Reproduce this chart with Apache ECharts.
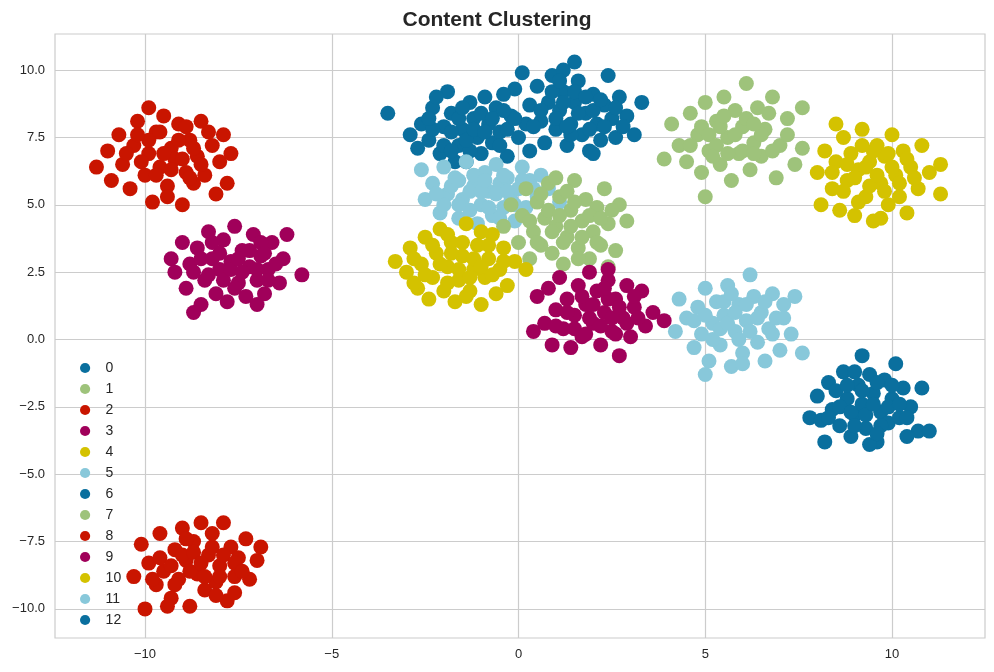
<!DOCTYPE html>
<html><head><meta charset="utf-8">
<script src="https://cdn.jsdelivr.net/npm/echarts@6/dist/echarts.min.js"></script>
<style>html,body{margin:0;padding:0;background:#fff}#c{width:994px;height:672px}</style>
</head><body><div id="c"></div>
<script>
const clusterNames = ['0','1','2','3','4','5','6','7','8','9','10','11','12'];
const clusterColors = ['#0a6f9e','#9ec37b','#c91500','#a0005a','#d4c200','#88c8da','#0a6f9e','#9ec37b','#c91500','#a0005a','#d4c200','#88c8da','#0a6f9e'];
const xTicks = [-10,-5,0,5,10];
const yTicks = [-10,-7.5,-5,-2.5,0,2.5,5,7.5,10];

const c0 = [[-3.5,8.4],[-2.6,8.0],[-2.4,7.4],[-2.3,8.6],[-2.1,6.9],[-2.0,7.9],[-1.9,9.2],[-1.8,8.4],[-1.6,7.2],[-1.5,7.8],[-1.4,6.6],[-1.3,8.8],[-1.2,8.2],[-1.1,7.5],[-1.0,6.9],[-0.9,9.0],[-0.8,8.0],[-0.7,7.3],[-0.6,8.6],[-0.5,7.7],[-0.3,6.8],[-0.2,8.3],[-0.1,9.3],[0.0,7.5],[0.2,8.0],[-2.7,7.1],[-1.7,6.6],[-2.2,9.0],[-0.4,9.1],[-1.3,7.0],[-2.9,7.6],[0.3,7.0],
 [-2.3,7.8],[-2.0,7.2],[-1.8,7.7],[-1.6,8.2],[-1.4,7.4],[-1.2,7.8],[-1.0,8.4],[-0.9,7.7],[-0.7,8.2],[-0.5,7.2],[-0.3,7.8],[-0.1,8.2],[-1.5,8.6],[-2.4,8.2],[-0.4,8.5],[-1.8,7.0]];
const c1 = [[3.9,6.7],[4.1,8.0],[4.3,7.2],[4.5,6.6],[4.6,8.4],[4.8,7.6],[4.9,6.2],[5.0,8.8],[5.1,7.0],[5.3,8.1],[5.4,6.5],[5.5,9.0],[5.6,7.5],[5.7,5.9],[5.8,8.5],[5.9,6.9],[6.0,7.9],[6.1,9.5],[6.2,6.3],[6.3,7.3],[6.4,8.6],[6.5,6.8],[6.6,7.8],[6.8,9.0],[6.9,6.0],[7.0,7.2],[7.2,8.2],[7.4,6.5],[7.6,8.6],[7.6,7.1],[5.0,5.3],[5.4,7.9],
 [4.6,7.2],[4.9,7.9],[5.1,7.6],[5.3,7.2],[5.5,8.3],[5.6,6.9],[5.8,7.6],[6.0,7.0],[6.1,8.2],[6.3,6.9],[6.5,7.6],[6.7,8.4],[6.8,7.0],[5.2,6.8],[6.3,8.0],[7.2,7.6]];
const c2 = [[-11.3,6.4],[-11.0,7.0],[-10.9,5.9],[-10.7,7.6],[-10.6,6.5],[-10.4,5.6],[-10.3,7.2],[-10.2,8.1],[-10.0,6.1],[-9.9,6.9],[-9.8,5.1],[-9.7,7.7],[-9.6,6.4],[-9.5,8.3],[-9.4,5.7],[-9.3,7.1],[-9.2,6.7],[-9.1,8.0],[-9.0,5.0],[-8.9,6.2],[-8.8,7.4],[-8.7,5.8],[-8.6,6.8],[-8.5,8.1],[-8.4,6.1],[-8.2,7.2],[-8.1,5.4],[-8.0,6.6],[-7.9,7.6],[-7.7,6.9],[-7.8,5.8],[-9.9,8.6],
 [-10.5,6.9],[-10.1,6.6],[-9.9,7.4],[-9.7,6.1],[-9.5,6.9],[-9.3,6.3],[-9.1,7.4],[-9.0,6.7],[-8.8,6.0],[-8.7,7.1],[-8.5,6.5],[-8.3,7.7],[-10.2,7.6],[-9.6,7.7],[-8.9,7.9],[-9.4,5.3]];
const c3 = [[-9.3,3.0],[-9.2,2.5],[-9.0,3.6],[-8.9,1.9],[-8.8,2.8],[-8.6,3.4],[-8.5,1.3],[-8.4,2.2],[-8.3,4.0],[-8.2,3.0],[-8.1,1.7],[-8.0,2.6],[-7.9,3.7],[-7.8,1.4],[-7.7,2.9],[-7.6,4.2],[-7.5,2.1],[-7.4,3.3],[-7.3,1.6],[-7.2,2.7],[-7.1,3.9],[-7.0,2.2],[-6.9,3.1],[-6.8,1.7],[-6.7,2.6],[-6.6,3.6],[-6.4,2.1],[-6.3,3.0],[-6.2,3.9],[-5.8,2.4],[-8.7,1.0],[-7.0,1.3],
 [-8.7,2.5],[-8.5,3.0],[-8.3,2.4],[-8.0,3.2],[-7.9,2.2],[-7.7,2.6],[-7.5,3.0],[-7.4,2.5],[-7.2,3.3],[-7.0,2.6],[-6.9,3.6],[-6.7,2.2],[-6.5,2.8],[-8.2,3.6],[-7.6,1.9],[-6.8,3.2]];
const c4 = [[8.0,6.2],[8.1,5.0],[8.2,7.0],[8.4,5.6],[8.5,6.6],[8.6,4.8],[8.7,7.5],[8.8,5.9],[8.9,6.9],[9.0,4.6],[9.1,6.3],[9.2,7.8],[9.3,5.3],[9.4,6.6],[9.5,4.4],[9.6,7.2],[9.7,5.8],[9.8,6.8],[9.9,5.0],[10.0,7.6],[10.1,6.1],[10.2,5.3],[10.3,7.0],[10.4,4.7],[10.5,6.4],[10.7,5.6],[10.8,7.2],[11.0,6.2],[11.3,5.4],[11.3,6.5],[8.5,8.0],[9.7,4.5],
 [8.4,6.2],[8.7,5.5],[8.8,6.5],[9.0,6.0],[9.1,5.1],[9.3,6.4],[9.4,5.7],[9.5,7.0],[9.6,6.1],[9.8,5.5],[10.0,6.4],[10.2,5.8],[10.4,6.7],[9.2,7.2],[10.6,6.0],[9.9,6.9]];
const c5 = [[-2.6,6.3],[-2.5,5.2],[-2.3,5.8],[-2.1,4.7],[-2.0,6.4],[-1.9,5.4],[-1.7,6.0],[-1.6,4.5],[-1.5,5.2],[-1.4,6.6],[-1.2,5.7],[-1.1,4.3],[-1.0,5.0],[-0.9,6.2],[-0.8,5.5],[-0.7,4.6],[-0.6,6.5],[-0.5,5.8],[-0.4,4.9],[-0.3,6.0],[-0.2,5.2],[-0.1,4.4],[0.0,5.6],[0.1,6.4],[0.2,4.9],[0.3,5.9],[0.5,5.3],[0.6,6.1],[0.8,5.6],[1.1,5.1],[-2.0,5.0],[-1.3,4.8],
 [-2.2,5.4],[-1.8,5.7],[-1.6,5.0],[-1.3,5.5],[-1.2,6.1],[-1.0,5.5],[-0.8,4.9],[-0.6,5.4],[-0.4,6.1],[-0.3,5.5],[-0.1,5.0],[0.1,5.9],[0.4,5.6],[-0.9,5.9],[-1.6,5.9],[-0.5,4.5]];
const c6 = [[7.8,-2.9],[8.0,-2.1],[8.2,-3.8],[8.3,-1.6],[8.4,-2.6],[8.6,-3.2],[8.7,-1.2],[8.8,-2.2],[8.9,-3.6],[9.0,-2.8],[9.1,-1.7],[9.2,-0.6],[9.2,-2.4],[9.3,-3.3],[9.4,-1.3],[9.5,-2.0],[9.6,-3.8],[9.7,-2.7],[9.8,-1.5],[9.9,-3.1],[10.0,-2.2],[10.1,-0.9],[10.2,-2.9],[10.3,-1.8],[10.5,-2.5],[10.7,-3.4],[10.8,-1.8],[11.0,-3.4],[8.5,-1.9],[9.4,-3.9],[10.4,-3.6],[8.1,-3.0],
 [8.3,-2.9],[8.6,-2.5],[8.8,-1.7],[8.9,-2.7],[9.0,-3.2],[9.2,-1.9],[9.3,-2.8],[9.5,-2.4],[9.6,-1.6],[9.7,-3.2],[9.9,-2.5],[10.0,-1.7],[10.2,-2.4],[10.4,-2.9],[9.0,-1.2],[9.6,-3.5]];
const c7 = [[-0.4,4.2],[-0.2,5.0],[0.0,3.6],[0.1,4.6],[0.2,5.6],[0.3,3.0],[0.4,4.0],[0.5,5.1],[0.6,3.5],[0.7,4.5],[0.8,5.8],[0.9,3.2],[1.0,4.2],[1.1,5.3],[1.2,2.8],[1.3,3.8],[1.4,4.8],[1.5,5.9],[1.6,3.4],[1.7,4.4],[1.8,5.2],[1.9,3.0],[2.0,4.0],[2.1,4.9],[2.2,3.5],[2.3,5.6],[2.4,4.3],[2.6,3.3],[2.7,5.0],[2.9,4.4],[2.4,2.7],[1.0,6.0],
 [0.3,4.4],[0.5,3.6],[0.8,4.8],[0.9,4.0],[1.1,4.6],[1.2,3.6],[1.4,4.2],[1.5,5.1],[1.7,3.8],[1.9,4.6],[2.1,3.6],[2.2,4.5],[1.3,5.5],[0.6,5.4],[2.5,4.8],[1.6,3.0]];
const c8 = [[-10.3,-8.8],[-10.1,-7.6],[-10.0,-10.0],[-9.9,-8.3],[-9.7,-9.1],[-9.6,-7.2],[-9.5,-8.6],[-9.3,-9.6],[-9.2,-7.8],[-9.1,-8.9],[-9.0,-7.0],[-8.9,-8.2],[-8.8,-9.9],[-8.7,-7.5],[-8.6,-8.7],[-8.5,-6.8],[-8.4,-9.3],[-8.3,-8.0],[-8.2,-7.2],[-8.1,-9.0],[-8.0,-8.4],[-7.9,-6.8],[-7.8,-9.7],[-7.7,-7.7],[-7.6,-8.8],[-7.5,-8.1],[-7.3,-7.4],[-7.2,-8.9],[-7.0,-8.2],[-6.9,-7.7],[-9.4,-9.9],[-7.6,-9.4],
 [-9.6,-8.1],[-9.3,-8.4],[-9.2,-9.1],[-9.0,-8.0],[-8.8,-8.6],[-8.7,-7.9],[-8.5,-8.3],[-8.4,-8.8],[-8.2,-7.7],[-8.0,-8.8],[-7.9,-8.0],[-7.6,-8.3],[-9.8,-8.9],[-8.9,-7.4],[-8.1,-9.5],[-7.4,-8.6]];
const c9 = [[0.4,0.3],[0.5,1.6],[0.7,0.6],[0.8,1.9],[0.9,-0.2],[1.0,1.1],[1.1,2.3],[1.2,0.4],[1.3,1.5],[1.4,-0.3],[1.5,0.9],[1.6,2.0],[1.7,0.1],[1.8,1.3],[1.9,2.5],[2.0,0.6],[2.1,1.8],[2.2,-0.2],[2.3,1.0],[2.4,2.2],[2.5,0.3],[2.6,1.5],[2.7,-0.6],[2.8,0.8],[2.9,2.0],[3.0,0.1],[3.1,1.2],[3.3,1.8],[3.4,0.5],[3.6,1.0],[3.9,0.7],[2.4,2.6],
 [1.0,0.5],[1.3,1.0],[1.5,0.4],[1.7,1.6],[1.9,0.8],[2.0,1.3],[2.2,0.5],[2.4,1.5],[2.5,0.8],[2.7,1.2],[2.9,0.6],[3.1,1.6],[2.3,1.9],[1.8,0.2],[2.6,0.2],[3.2,0.8]];
const c10 = [[-3.3,2.9],[-3.0,2.5],[-2.9,3.4],[-2.7,1.9],[-2.6,2.8],[-2.5,3.8],[-2.4,1.5],[-2.3,2.3],[-2.2,3.2],[-2.1,4.1],[-2.0,1.8],[-1.9,2.7],[-1.8,3.6],[-1.7,1.4],[-1.6,2.2],[-1.5,3.1],[-1.4,4.3],[-1.3,1.8],[-1.2,2.6],[-1.1,3.5],[-1.0,1.3],[-0.9,2.3],[-0.8,3.0],[-0.7,3.9],[-0.6,1.7],[-0.5,2.6],[-0.4,3.4],[-0.3,2.0],[-0.1,2.9],[0.2,2.6],[-2.8,2.1],[-1.0,4.0],
 [-2.8,3.0],[-2.5,2.4],[-2.3,3.5],[-2.1,2.8],[-1.9,2.1],[-1.8,3.2],[-1.6,2.6],[-1.5,3.6],[-1.3,2.3],[-1.2,3.0],[-1.0,2.7],[-0.8,3.5],[-0.7,2.4],[-0.4,2.9],[-1.9,3.9],[-1.4,1.6]];
const c11 = [[4.2,0.3],[4.3,1.5],[4.5,0.8],[4.7,-0.3],[4.8,1.2],[4.9,0.2],[5.0,1.9],[5.1,-0.8],[5.2,0.6],[5.3,1.4],[5.4,-0.2],[5.5,0.9],[5.6,2.0],[5.7,-1.0],[5.8,0.3],[5.9,1.3],[6.0,-0.5],[6.1,0.7],[6.2,2.4],[6.3,1.6],[6.4,-0.1],[6.5,1.0],[6.6,-0.8],[6.7,0.4],[6.8,1.7],[6.9,0.8],[7.0,-0.4],[7.1,1.3],[7.3,0.2],[7.4,1.6],[7.6,-0.5],[5.0,-1.3],
 [4.7,0.7],[5.0,0.9],[5.2,0.0],[5.4,0.4],[5.5,1.4],[5.6,0.6],[5.8,1.0],[5.9,0.0],[6.1,1.3],[6.2,0.3],[6.4,0.8],[6.6,1.4],[6.8,0.2],[5.7,1.7],[6.0,-0.9],[7.1,0.8]];
const c12 = [[0.1,9.9],[0.3,8.7],[0.5,9.4],[0.6,8.1],[0.7,7.3],[0.8,8.8],[0.9,9.8],[1.0,7.8],[1.1,8.5],[1.2,9.2],[1.3,7.2],[1.4,8.0],[1.5,8.8],[1.6,9.6],[1.7,7.6],[1.8,8.4],[1.9,7.0],[2.0,9.1],[2.1,8.0],[2.2,7.4],[2.3,8.7],[2.4,9.8],[2.5,8.2],[2.6,7.5],[2.7,9.0],[2.9,8.3],[3.1,7.6],[3.3,8.8],[1.5,10.3],[2.0,6.9],[0.4,7.9],[1.2,10.0],
 [0.6,8.5],[0.9,9.2],[1.0,8.2],[1.2,8.8],[1.4,7.6],[1.5,9.2],[1.6,8.4],[1.8,9.0],[1.9,7.8],[2.0,8.5],[2.2,8.9],[2.3,7.9],[2.6,8.6],[1.3,7.9],[2.8,7.9],[1.1,9.6]];
const clusters = [c0,c1,c2,c3,c4,c5,c6,c7,c8,c9,c10,c11,c12];

const minus = s => String(s).replace('-', '\u2212');
const FONT = 'Liberation Sans';
const chart = echarts.init(document.getElementById('c'));
chart.setOption({
  animation: false,
  backgroundColor: '#fff',
  title: { text: 'Content Clustering', left: 'center', top: 5,
    textStyle: { fontFamily: FONT, fontSize: 21, fontWeight: 'bold', color: '#262626' } },
  legend: { orient: 'vertical', left: 75, top: 355, height: 300, itemGap: 5.0, itemWidth: 11, itemHeight: 10.2,
    icon: 'circle', data: clusterNames,
    textStyle: { fontFamily: FONT, fontSize: 14, lineHeight: 16, color: '#262626', padding: [0,0,0,10] } },
  grid: { left: 55, right: 9, top: 34, bottom: 34, containLabel: false,
    show: true, borderColor: '#cccccc', borderWidth: 1.2 },
  xAxis: { type: 'value', min: -12.41, max: 12.49,
    axisLine: { show: false }, axisTick: { show: false, customValues: xTicks },
    axisLabel: { customValues: xTicks, formatter: v => minus(v), color: '#262626', fontSize: 13, fontFamily: FONT, margin: 10 },
    splitLine: { show: true, lineStyle: { color: '#cccccc', width: 1.2 } } },
  yAxis: { type: 'value', min: -11.08, max: 11.34,
    axisLine: { show: false }, axisTick: { show: false, customValues: yTicks },
    axisLabel: { customValues: yTicks, formatter: v => minus(v.toFixed(1)), color: '#262626', fontSize: 13, fontFamily: FONT, margin: 10 },
    splitLine: { show: true, lineStyle: { color: '#cccccc', width: 1.2 } } },
  series: clusters.map((d, i) => ({
    name: clusterNames[i], type: 'scatter', data: d, symbolSize: 15,
    itemStyle: { color: clusterColors[i], opacity: 1 }
  }))
});
</script></body></html>
